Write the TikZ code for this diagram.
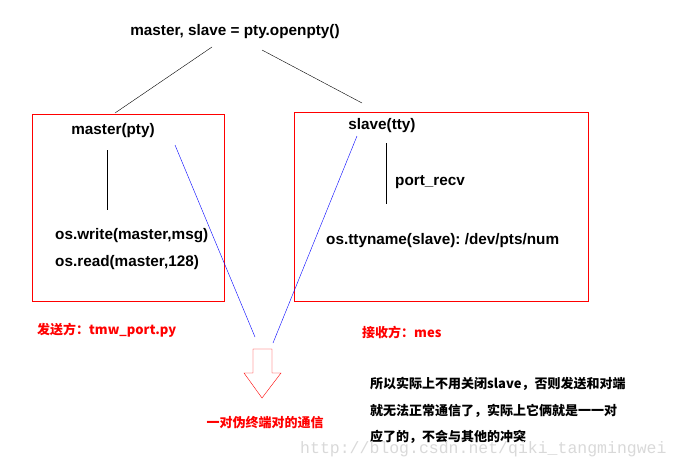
\documentclass[tikz,border=0pt]{standalone}
\usepackage{fontspec}
\setmainfont{Liberation Sans}
\newfontfamily\cjk{Noto Sans CJK SC}
\newfontfamily\wmfont{Liberation Mono}
\begin{document}
\begin{tikzpicture}[x=1pt,y=-1pt,
  lbl/.style={font=\bfseries\fontsize{15.3}{17}\selectfont, inner sep=0pt},
  cjklbl/.style={font=\cjk\bfseries\fontsize{13}{15}\selectfont, inner sep=0pt},
  redbox/.style={draw=red},
  blueline/.style={draw=blue}]
\useasboundingbox (0,0) rectangle (680,469);

\node[lbl] (title) at (235,32) {master, slave = pty.openpty()};
\coordinate (tl) at (212,47);
\coordinate (tr) at (262,50);
\coordinate (ml) at (115,113);
\coordinate (mr) at (362,103);
\draw (tl) -- (ml);
\draw (tr) -- (mr);

\draw[redbox] (32,114) rectangle (224,301);
\draw[redbox] (294,112) rectangle (588,301);

\node[lbl] (master) at (113,131) {master(pty)};
\coordinate (m1) at (107,150);
\coordinate (m2) at (107,210);
\draw (m1) -- (m2);
\node[lbl, anchor=west] (write) at (55,236) {os.write(master,msg)};
\node[lbl, anchor=west] (read) at (55,263) {os.read(master,128)};

\node[lbl] (slave) at (382,126) {slave(tty)};
\coordinate (s1) at (386,143);
\coordinate (s2) at (386,204);
\draw (s1) -- (s2);
\node[lbl, anchor=west] (recv) at (395,182) {port\_recv};
\node[lbl, anchor=west] (tty) at (326,241) {os.ttyname(slave):\ /dev/pts/num};

\coordinate (b1) at (175,145);
\coordinate (b2) at (255,337);
\coordinate (b3) at (357,136);
\coordinate (b4) at (273,343);
\draw[blueline] (b1) -- (b2);
\draw[blueline] (b3) -- (b4);

\draw[red] (253,349) -- (272,349) -- (272,373) -- (281,373) -- (262,398)
  -- (244,373) -- (253,373) -- cycle;

\node[cjklbl, red, anchor=west] (send) at (37,330) {发送方：tmw\_port.py};
\node[cjklbl, red, anchor=west] (recvside) at (362,332) {接收方：mes};
\node[cjklbl, red] (pair) at (265,423) {一对伪终端对的通信};

\node[cjklbl, anchor=west] (n1) at (370,384) {所以实际上不用关闭slave，否则发送和对端};
\node[cjklbl, anchor=west] (n2) at (370,411) {就无法正常通信了，实际上它俩就是一一对};
\node[cjklbl, anchor=west] (n3) at (370,437) {应了的，不会与其他的冲突};

\node[font=\wmfont\fontsize{16.5}{18}\selectfont, black!15, anchor=west, inner sep=0pt] (wm) at (300,449) {http://blog.csdn.net/qiki\_tangmingwei};
\end{tikzpicture}
\end{document}
